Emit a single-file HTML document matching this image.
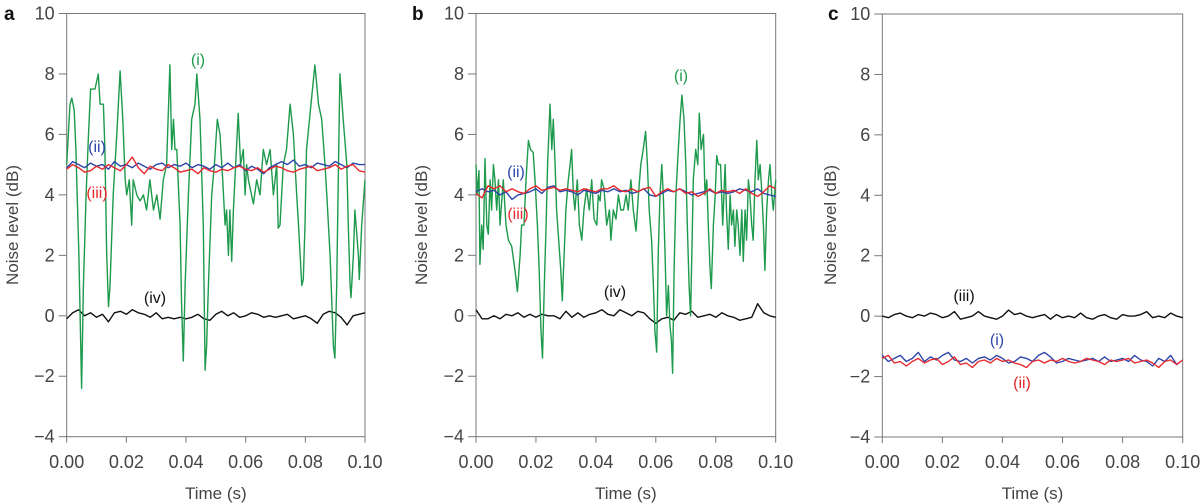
<!DOCTYPE html>
<html><head><meta charset="utf-8"><style>
body{margin:0;background:#fff}
svg{display:block;font-family:"Liberation Sans",sans-serif}
</style></head><body>
<svg id="chart" width="1200" height="504" viewBox="0 0 1200 504"></svg>
<script>
// ---- data ----
const xTicks=[0,0.02,0.04,0.06,0.08,0.10];
const xTickLabels=["0.00","0.02","0.04","0.06","0.08","0.10"];
const yTicks=[-4,-2,0,2,4,6,8,10];
const flatTimesMs=Array.from({length:51},(_,i)=>i*2);

const aGreenT=[0,1.1,1.7,2.5,3.1,4.1,5.0,5.6,6.5,7.3,8.0,9.5,10.6,11.2,12.3,12.8,13.4,14.0,14.5,15.6,16.8,17.9,18.8,19.6,20.1,21.0,21.8,22.3,23.5,24.6,25.7,26.8,27.9,29.1,30.2,31.3,32.4,33.5,34.6,35.2,35.8,36.3,36.9,38.0,38.5,39.1,39.7,40.8,41.9,43.0,43.6,44.7,45.8,46.4,46.9,47.5,48.6,49.5,50.5,51.4,52.3,53.1,53.6,54.2,54.7,55.3,55.9,56.4,57.5,58.3,59.2,59.8,60.3,60.9,62.6,63.7,64.8,65.9,67.0,68.2,69.3,70.4,70.9,71.5,72.6,73.7,74.9,76.0,77.1,77.7,78.8,79.3,79.9,80.4,83.2,84.4,85.5,86.6,87.2,88.3,89.4,89.9,90.5,91.1,91.6,92.7,93.9,94.4,95.0,95.3,96.1,96.6,97.8,98.1,98.9,100];
const aGreenV=[5,7,7.2,6.8,5.5,2,-2.4,1,4,6,7.5,7.5,8,7,7,5.5,2,0.3,1,4,6,8.1,6.5,4.5,4,4.5,3,4.5,4,3.8,4,3.5,4.5,3.5,4,3.2,4.5,5,8.3,5.5,6.5,5.5,5.5,3,0.5,-1.5,1,4,6.5,7,8,6.5,3,-1.8,-1,1,4,5,6.5,6,4.5,3,3.5,2,3.5,1.8,3.5,4.5,6.7,5,5.5,4,5,4.5,3.7,4.5,4,5.5,5,5.5,4,5,2.9,3,5,5.5,7,6,4,3,1,1.2,3,5.5,8.3,7,6.5,5,4,2,-1,-1.4,1,5,8,6.5,5,3,1,0.6,2,3.5,2,1.2,3,4.5];
const aBlue=[4.9,5.1,5.0,4.9,5.05,4.95,5.0,4.85,5.1,4.95,5.0,4.9,5.05,4.95,4.85,5.0,5.05,4.9,5.0,4.95,5.05,4.9,5.0,4.95,4.85,5.0,4.9,5.05,4.9,5.0,4.8,4.95,4.85,4.7,4.9,5.0,5.1,5.0,5.15,4.95,5.0,4.9,5.05,5.0,4.95,5.1,5.0,4.9,5.05,5.0,5.0];
const aRed=[4.85,5.0,4.9,4.75,4.8,4.95,4.85,5.0,4.9,4.8,5.0,5.25,4.9,4.7,4.95,4.85,4.8,5.0,4.9,4.75,4.8,4.85,4.7,4.9,4.8,4.75,4.85,4.8,4.9,4.95,4.85,4.8,4.9,4.75,4.85,4.95,4.9,4.8,4.75,4.85,4.9,4.95,4.8,4.85,4.9,5.0,4.85,4.95,5.0,4.8,4.75];
const aBlack=[-0.1,0.1,0.2,0.0,0.1,-0.05,0.05,-0.2,0.1,0.15,0.05,0.2,0.1,0.05,-0.05,0.1,-0.1,-0.05,-0.1,-0.05,-0.1,-0.05,0.05,-0.1,-0.15,0.05,0.15,0.0,0.1,-0.05,0.0,0.1,0.05,-0.05,0.0,-0.05,0.0,0.05,-0.1,-0.05,0.0,-0.1,-0.25,0.05,0.15,0.1,-0.05,-0.3,0.0,0.05,0.1];

const bGreenT=[0,0.4,1.0,1.3,1.9,2.4,3.0,3.6,4.1,4.7,5.2,5.8,6.3,6.9,7.5,8.0,9.1,10.0,10.8,11.9,13.0,13.8,14.7,15.2,16.0,16.7,17.5,18.2,19.1,19.7,20.5,21.1,21.7,22.2,22.8,23.4,23.9,24.7,25.3,25.8,26.4,26.9,27.6,28.3,28.8,29.4,30.0,30.8,31.4,31.9,32.5,33.0,33.8,34.5,35.3,36.0,36.9,37.8,38.6,39.4,40.3,40.8,41.4,41.9,42.7,43.6,44.5,45.0,45.8,46.7,47.5,48.3,49.2,50.1,50.8,51.7,52.5,53.4,54.2,55.0,55.8,56.6,57.2,57.8,58.6,59.2,59.7,60.3,60.8,61.4,62.0,62.5,63.1,63.6,64.2,64.7,65.2,65.6,66.1,66.7,67.5,68.1,68.7,69.4,70.0,70.5,71.1,71.6,72.0,72.5,73.3,74.0,74.5,75.1,75.9,76.4,77.0,77.5,78.1,78.5,79.2,79.8,80.3,80.9,81.6,82.3,83.1,83.6,84.2,84.8,85.3,85.9,86.4,87.0,87.5,88.1,88.7,89.2,89.8,90.3,90.9,91.4,92.0,92.5,93.1,93.7,94.2,94.8,95.3,95.9,96.4,97.0,97.6,98.1,98.7,99.2,100];
const bGreenV=[5,4,4.8,1.7,3,2.2,5.2,3,2.7,4.5,3.5,5,4.5,3.5,4.5,3,4.5,3,2.5,2.3,1.5,0.8,2,3,3,4.5,5.8,5.5,5.4,4.5,3,1.5,-0.5,-1.4,1,3,5,7,5.5,6.5,5,3.5,2.5,1.5,0.5,2,3.5,4.5,5,5.5,4,3.5,4.5,3,2.5,3.5,4.2,3.5,4.5,3.2,3,4,3.8,4.5,4.2,3,3.5,2.5,3.5,3.2,4,3.5,3.5,4,3.5,4.5,3.5,2.8,4,5,5.5,6.1,5,3.5,2.5,1,-0.5,-1.2,2,4,5,4,2,0,1,-0.3,-0.8,-1.9,1.5,4,5.5,6.5,7.3,6.5,5,3,1,0,2,4.5,5.5,5,6.7,5.5,6,4,4.5,3,1.5,0.9,3,4,5.3,5,5,3,5,3.5,2.2,4,3,3.5,2.3,3.5,3,2,3.5,1.8,3.5,2.5,4.5,4,3,2.5,4.5,5.8,4.5,5,4.2,3,1.5,3.5,4.5,5,4,3.5,4.5];
const bBlue=[4.1,4.2,4.1,4.15,4.0,4.1,3.85,4.0,4.05,4.1,4.2,4.05,4.25,4.3,4.1,4.15,4.1,4.0,4.15,4.1,4.05,4.15,4.1,4.2,4.1,4.15,4.05,4.1,4.2,4.0,3.95,4.05,4.15,4.1,4.2,4.1,4.0,4.05,4.1,4.15,4.05,4.1,4.05,4.1,4.2,4.15,4.1,4.2,4.05,4.0,3.95];
const bRed=[4.05,3.9,4.3,4.2,4.3,4.1,4.2,4.1,4.05,4.2,4.3,4.15,4.2,4.25,4.15,4.2,4.15,4.1,4.2,4.15,4.1,4.2,4.2,4.3,4.15,4.1,4.2,4.1,4.2,4.25,3.95,4.1,4.2,4.1,4.2,4.05,4.1,3.95,4.05,4.2,4.05,4.15,4.1,4.15,4.05,4.2,4.05,3.95,4.1,4.3,4.2];
const bBlack=[0.2,-0.1,-0.1,0.0,-0.1,0.05,0.0,0.1,-0.05,0.05,-0.05,0.05,0.0,0.0,-0.1,0.15,-0.05,0.1,-0.05,0.05,0.1,0.2,0.05,0.0,0.2,0.1,0.0,0.15,0.1,-0.1,-0.25,-0.1,-0.05,-0.15,0.1,0.05,0.15,-0.05,0.0,0.05,-0.05,0.1,0.0,-0.05,-0.15,-0.1,-0.05,0.4,0.1,0.0,-0.05];

const cBlack=[0.0,-0.05,0.05,0.1,0.0,-0.05,0.05,0.0,0.1,0.05,-0.05,0.0,0.15,-0.1,-0.05,0.0,0.15,0.0,-0.05,-0.1,0.0,0.2,0.05,0.1,0.0,-0.05,0.0,0.05,-0.1,0.05,-0.05,0.0,-0.05,0.1,-0.05,-0.1,0.0,0.05,-0.05,-0.1,0.05,0.0,0.0,0.05,0.15,-0.05,0.0,-0.05,0.1,0.0,-0.05];
const cBlue=[-1.3,-1.5,-1.4,-1.3,-1.5,-1.4,-1.2,-1.5,-1.35,-1.45,-1.3,-1.2,-1.45,-1.5,-1.4,-1.55,-1.4,-1.35,-1.45,-1.3,-1.4,-1.55,-1.5,-1.35,-1.4,-1.5,-1.3,-1.2,-1.35,-1.55,-1.5,-1.4,-1.45,-1.5,-1.45,-1.4,-1.5,-1.35,-1.5,-1.45,-1.4,-1.5,-1.3,-1.45,-1.5,-1.65,-1.4,-1.5,-1.3,-1.6,-1.45];
const cRed=[-1.4,-1.3,-1.55,-1.5,-1.65,-1.5,-1.4,-1.55,-1.45,-1.4,-1.6,-1.5,-1.35,-1.6,-1.55,-1.7,-1.5,-1.45,-1.55,-1.4,-1.5,-1.45,-1.55,-1.6,-1.7,-1.5,-1.45,-1.55,-1.45,-1.5,-1.4,-1.5,-1.55,-1.5,-1.4,-1.45,-1.5,-1.6,-1.45,-1.5,-1.45,-1.4,-1.55,-1.5,-1.45,-1.55,-1.7,-1.5,-1.45,-1.6,-1.45];

const GREEN="#1d9a4c",BLUE="#2d45a8",RED="#e8282c",BLACK="#111";
const NS="http://www.w3.org/2000/svg";
const svg=document.getElementById('chart');
function mk(tag,attrs,parent){const e=document.createElementNS(NS,tag);for(const k in attrs)e.setAttribute(k,attrs[k]);(parent||svg).appendChild(e);return e;}

function panel(p){
  const g=mk('g',{});
  
  
  const x=t=>p.x0+(t/0.1)*(p.x1-p.x0);
  const y=v=>p.y1-((v+4)/14)*(p.y1-p.y0);
  const frame=mk('rect',{x:p.x0,y:p.y0,width:p.x1-p.x0,height:p.y1-p.y0,fill:'none',stroke:'#777','stroke-width':1},g);
  
  
  yTicks.forEach(v=>{
    mk('line',{x1:p.x0-8,x2:p.x0,y1:y(v),y2:y(v),stroke:'#777'},g);
    const t=mk('text',{x:p.x0-12,y:y(v)+6,'text-anchor':'end','font-size':18,fill:'#444'},g);
    t.textContent=v<0?'\u2212'+(-v):String(v);
    
    
  });
  xTicks.forEach((v,i)=>{
    mk('line',{x1:x(v),x2:x(v),y1:p.y1,y2:p.y1+6,stroke:'#777'},g);
    const t=mk('text',{x:x(v),y:468,'text-anchor':'middle','font-size':18,fill:'#444'},g);
    t.textContent=xTickLabels[i];
    
    
  });
  const xt=mk('text',{x:(p.x0+p.x1)/2,y:499,'text-anchor':'middle','font-size':17,fill:'#444'},g);
  xt.textContent='Time (s)';
  
  
  const yt=mk('text',{x:0,y:0,'text-anchor':'middle','font-size':17,fill:'#444',transform:`translate(${p.yl},225) rotate(-90)`},g);
  yt.textContent='Noise level (dB)';
  
  
  const lt=mk('text',{x:p.lx,y:20,'font-size':19,'font-weight':'bold',fill:'#111'},g);
  lt.textContent=p.id;
  
  
  p.series.forEach(s=>{
    const d=s.v.map((v,i)=>(i?'L':'M')+x(s.t[i]/1000).toFixed(1)+','+y(v).toFixed(1)).join('');
    const path=mk('path',{d:d,fill:'none',stroke:s.c,'stroke-width':s.w||1.4,'stroke-linejoin':'round'},g);
    
    
  });
  p.labels.forEach(l=>{
    const t=mk('text',{x:l[1],y:l[2],'text-anchor':'middle','font-size':16,fill:l[3]},g);
    t.textContent=l[0];
    
    
  });
}
panel({id:'a',x0:66.7,x1:365,y0:13.5,y1:436.7,yl:18,lx:4,
  series:[{t:flatTimesMs,v:aBlack,c:BLACK,name:'series-iv'},{t:aGreenT,v:aGreenV,c:GREEN,name:'series-i'},{t:flatTimesMs,v:aBlue,c:BLUE,name:'series-ii'},{t:flatTimesMs,v:aRed,c:RED,name:'series-iii'}],
  labels:[['(i)',198,65,GREEN],['(ii)',97,152,BLUE],['(iii)',97,198,RED],['(iv)',155,303,BLACK]]});
panel({id:'b',x0:476,x1:775.7,y0:13.5,y1:436.7,yl:427,lx:412,
  series:[{t:flatTimesMs,v:bBlack,c:BLACK,name:'series-iv'},{t:bGreenT,v:bGreenV,c:GREEN,name:'series-i'},{t:flatTimesMs,v:bBlue,c:BLUE,name:'series-ii'},{t:flatTimesMs,v:bRed,c:RED,name:'series-iii'}],
  labels:[['(i)',681,81,GREEN],['(ii)',516,177,BLUE],['(iii)',518,219,RED],['(iv)',615,297,BLACK]]});
panel({id:'c',x0:882.3,x1:1182.7,y0:14,y1:437,yl:836,lx:828,
  series:[{t:flatTimesMs,v:cBlack,c:BLACK,name:'series-iii'},{t:flatTimesMs,v:cBlue,c:BLUE,name:'series-i'},{t:flatTimesMs,v:cRed,c:RED,name:'series-ii'}],
  labels:[['(iii)',964,301,BLACK],['(i)',997,345,BLUE],['(ii)',1022,388,RED]]});
</script>
</body></html>
